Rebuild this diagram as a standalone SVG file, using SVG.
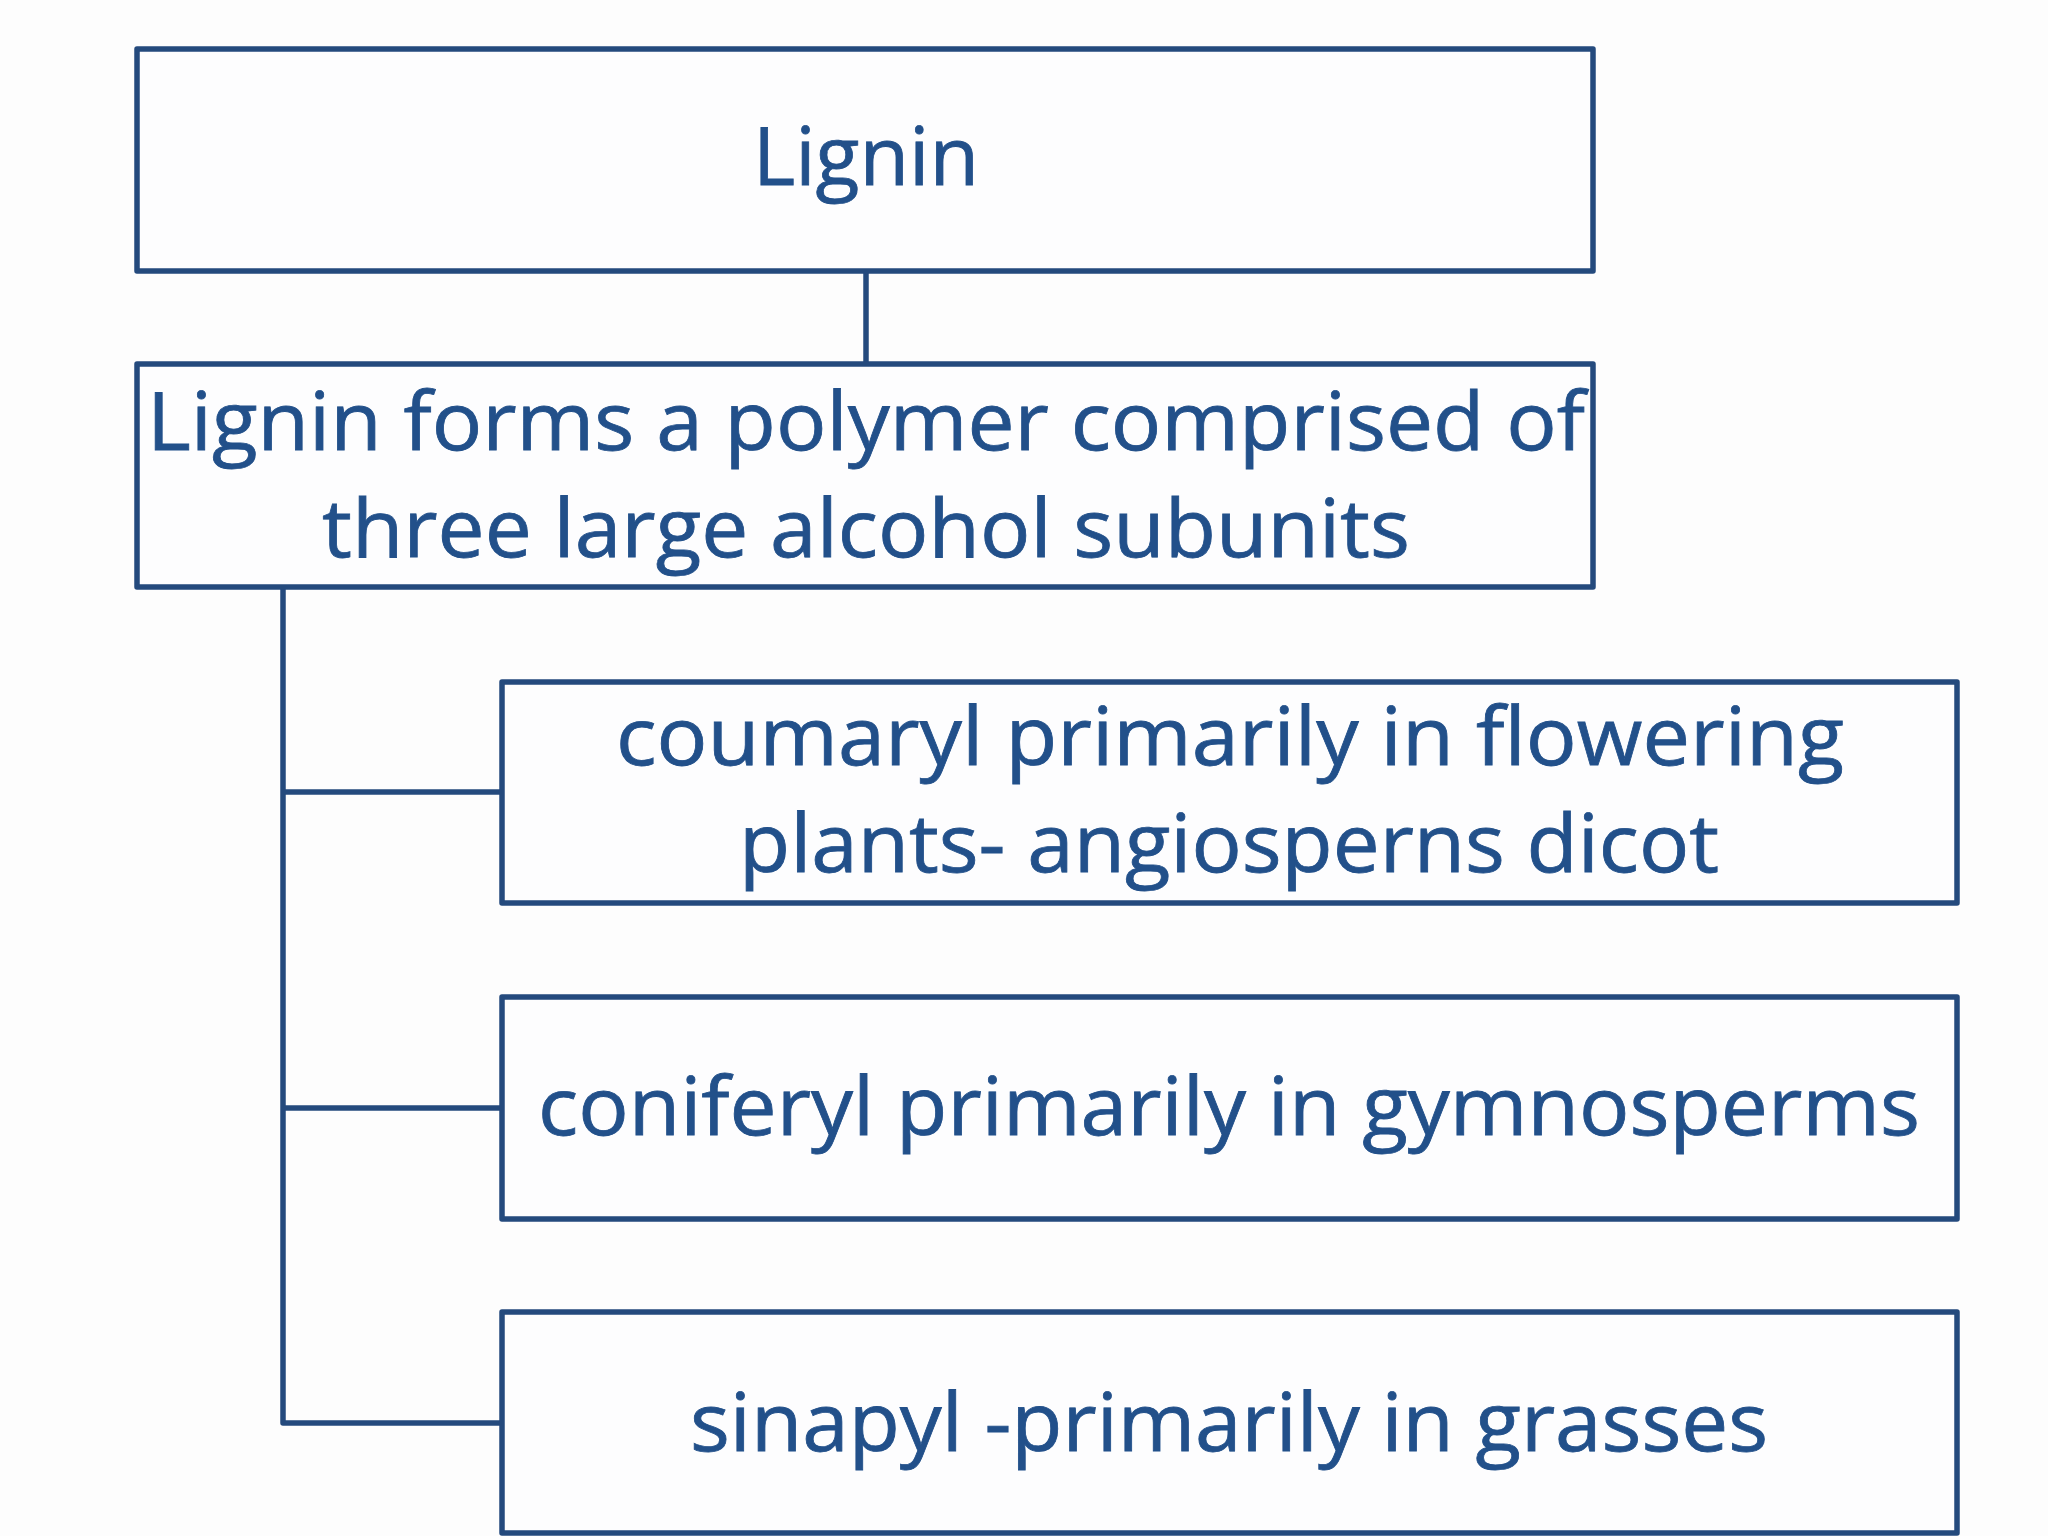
<svg xmlns="http://www.w3.org/2000/svg" width="2048" height="1536" viewBox="0 0 2048 1536">
<style>
.box{fill:#fdfdfe;stroke:#244a7d;stroke-width:5.5;stroke-linejoin:round}
.con{fill:none;stroke:#244a7d;stroke-width:5.5;stroke-linejoin:round}
.t{font-family:"Open Sans","Liberation Sans",sans-serif;font-size:81px;fill:#22508a;text-anchor:middle;stroke:#22508a;stroke-width:0.8}
</style>
<rect width="2048" height="1536" fill="#fdfdfd"/>
<g id="connectors">
<path class="con" d="M866 272 V364"/>
<path class="con" d="M283 587 V1423 H502"/>
<path class="con" d="M283 792 H502"/>
<path class="con" d="M283 1108 H502"/>
</g>
<g id="node-lignin">
<rect class="box" x="137" y="49" width="1456" height="222"/>
<text class="t" x="866" y="185" textLength="226" lengthAdjust="spacingAndGlyphs">Lignin</text>
</g>
<g id="node-polymer">
<rect class="box" x="137" y="364" width="1456" height="223"/>
<text class="t" x="866" y="450" textLength="1438" lengthAdjust="spacingAndGlyphs">Lignin forms a polymer comprised of</text>
<text class="t" x="866" y="557" textLength="1088" lengthAdjust="spacingAndGlyphs">three large alcohol subunits</text>
</g>
<g id="node-coumaryl">
<rect class="box" x="502" y="682" width="1455" height="221"/>
<text class="t" x="1230" y="765" textLength="1228" lengthAdjust="spacingAndGlyphs">coumaryl primarily in flowering</text>
<text class="t" x="1229" y="872" textLength="980" lengthAdjust="spacingAndGlyphs">plants- angiosperns dicot</text>
</g>
<g id="node-coniferyl">
<rect class="box" x="502" y="997" width="1455" height="222"/>
<text class="t" x="1229" y="1135" textLength="1382" lengthAdjust="spacingAndGlyphs">coniferyl primarily in gymnosperms</text>
</g>
<g id="node-sinapyl">
<rect class="box" x="502" y="1312" width="1455" height="221"/>
<text class="t" x="1229" y="1451" textLength="1078" lengthAdjust="spacingAndGlyphs">sinapyl -primarily in grasses</text>
</g>
</svg>
